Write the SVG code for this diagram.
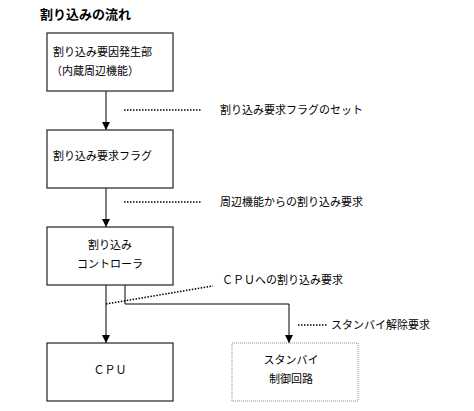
<svg xmlns="http://www.w3.org/2000/svg" width="474" height="411" viewBox="0 0 474 411">
<defs>
<style>
text{font-family:"Noto Sans CJK JP","Liberation Sans",sans-serif;font-size:11px;fill:#000}
.t{font-size:13px;font-weight:bold}
.c{text-anchor:middle}
.box{fill:#fff;stroke:#333;stroke-width:1.3}
.sb{fill:#fff;stroke:#888;stroke-width:1;stroke-dasharray:1 1}
.ln{fill:none;stroke:#000;stroke-width:1}
.dot{fill:none;stroke:#000;stroke-width:1.5;stroke-dasharray:1.5 1.5}
</style>
<marker id="ah" markerWidth="8" markerHeight="8" viewBox="0 0 8 8" refX="8" refY="4" orient="auto" markerUnits="userSpaceOnUse">
<path d="M0,0 L8,4 L0,8 Z" fill="#000"/>
</marker>
</defs>
<rect width="474" height="411" fill="#fff"/>
<text class="t" x="40" y="19">割り込みの流れ</text>
<g id="connectors">
<line class="ln" x1="106" y1="91" x2="106" y2="130" marker-end="url(#ah)"/>
<line class="ln" x1="106" y1="188" x2="106" y2="227" marker-end="url(#ah)"/>
<line class="ln" x1="106" y1="285" x2="106" y2="343" marker-end="url(#ah)"/>
<polyline class="ln" points="125,285 125,304 289,304 289,343" marker-end="url(#ah)"/>
<line class="dot" x1="124" y1="110" x2="202" y2="110"/>
<line class="dot" x1="124" y1="202" x2="202" y2="202"/>
<line class="dot" x1="106" y1="304" x2="213" y2="286"/>
<line class="dot" x1="298" y1="325" x2="328" y2="325"/>
<text x="220" y="114">割り込み要求フラグのセット</text>
<text x="220" y="206">周辺機能からの割り込み要求</text>
<text x="222" y="284">ＣＰＵへの割り込み要求</text>
<text x="331" y="329">スタンバイ解除要求</text>
</g>
<g id="source">
<rect class="box" x="47" y="33" width="126" height="58"/>
<text x="53" y="56">割り込み要因発生部</text>
<text x="51" y="75">（内蔵周辺機能）</text>
</g>
<g id="flag">
<rect class="box" x="47" y="130" width="126" height="58"/>
<text x="53" y="160">割り込み要求フラグ</text>
</g>
<g id="controller">
<rect class="box" x="47" y="227" width="126" height="58"/>
<text class="c" x="110" y="249">割り込み</text>
<text class="c" x="110" y="268">コントローラ</text>
</g>
<g id="cpu">
<rect class="box" x="47" y="343" width="126" height="58"/>
<text class="c" x="110" y="374">ＣＰＵ</text>
</g>
<g id="standby">
<rect class="sb" x="232" y="343" width="126" height="58"/>
<text class="c" x="291" y="364">スタンバイ</text>
<text class="c" x="291" y="383">制御回路</text>
</g>
</svg>
